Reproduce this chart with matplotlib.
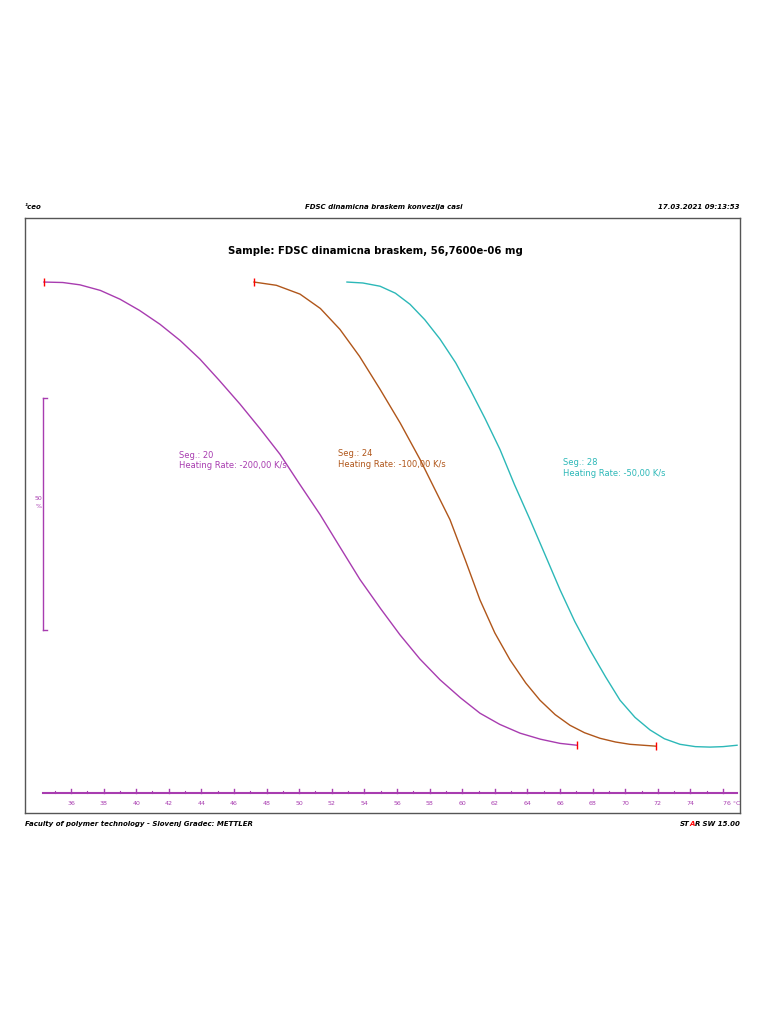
import matplotlib.pyplot as plt

# segment curves: temperature (°C) vs normalized signal (%)
t20 = [34.34, 35.5, 36.55, 37.8, 39.01, 40.2, 41.46, 42.7, 43.91, 45.1, 46.37, 47.6, 48.82, 50.0, 51.28, 52.5,
       53.73, 55.0, 56.18, 57.4, 58.64, 59.9, 61.09, 62.3, 63.55, 64.8, 66.0, 67.04]
y20 = [100, 99.9, 99.4, 98.2, 96.3, 93.9, 90.9, 87.4, 83.4, 78.8, 73.7, 68.4, 62.9, 56.6, 49.9, 42.9,
       35.9, 29.6, 24.0, 18.8, 14.3, 10.4, 7.1, 4.7, 2.8, 1.5, 0.6, 0.2]
t24 = [47.23, 48.6, 50.05, 51.3, 52.50, 53.7, 54.96, 56.2, 57.41, 58.3, 59.25, 60.2, 61.09, 62.0, 62.93, 63.9,
       64.77, 65.7, 66.61, 67.5, 68.45, 69.4, 70.29, 71.89]
y24 = [100, 99.3, 97.4, 94.3, 89.8, 84.0, 76.9, 69.6, 61.8, 55.5, 48.8, 40.0, 31.5, 24.4, 18.6, 13.6,
       9.9, 6.8, 4.5, 2.9, 1.7, 0.9, 0.4, 0]
t28 = [52.93, 53.9, 54.96, 55.9, 56.80, 57.7, 58.64, 59.6, 60.48, 61.4, 62.32, 63.2, 64.16, 65.1, 66.0, 66.9,
       67.84, 68.8, 69.68, 70.6, 71.52, 72.4, 73.36, 74.3, 75.20, 76.0, 76.86]
y28 = [100, 99.8, 99.1, 97.6, 95.2, 91.9, 87.7, 82.6, 76.9, 70.6, 63.9, 56.4, 48.8, 41.1, 33.7, 26.9,
       20.7, 14.9, 9.9, 6.2, 3.5, 1.6, 0.4, -0.1, -0.2, -0.1, 0.2]
ticks = list(range(36, 77, 2))

purple = '#a83cb0'
brown = '#b0561a'
cyan = '#2cb8b8'
narrow = 'Liberation Sans Narrow'

fig = plt.figure(figsize=(7.68, 10.24), dpi=100)
ax = fig.add_axes([25/768, 1-813/1024, 715/768, 595/1024])
ax.set_xlim(33.18, 77.04)
ax.set_ylim(-14.4, 113.8)
ax.set_xticks([]); ax.set_yticks([])
for s in ax.spines.values():
    s.set_color('#555555'); s.set_linewidth(1)

ax.plot(t20, y20, color=purple, lw=1)
ax.plot(t24, y24, color=brown, lw=1)
ax.plot(t28, y28, color=cyan, lw=1)
# red end markers
for t, y in [(t20[0], y20[0]), (t20[-1], y20[-1]), (t24[0], y24[0]), (t24[-1], y24[-1])]:
    ax.plot(t, y, marker='|', color='red', ms=6, mew=1)

# temperature axis
ax.plot([34.28, 76.86], [-10.1, -10.1], color=purple, lw=1.5)
for t in ticks:
    ax.plot([t, t], [-10.1, -9.3], color=purple, lw=1)
    ax.text(t, -12.3, str(t) if t < 76 else '76 °C', color=purple, fontsize=4.5,
            ha='center' if t < 76 else 'left', va='center', family=narrow)
for t in [x + 1 for x in ticks[:-1]] + [35]:
    ax.plot([t, t], [-10.1, -9.7], color=purple, lw=0.8)

# scale bar
ax.plot([34.3, 34.3], [25, 75], color=purple, lw=1)
ax.plot([34.3, 34.5], [75, 75], color=purple, lw=1)
ax.plot([34.3, 34.5], [25, 25], color=purple, lw=1)
ax.text(34.0, 52.5, '50\n%', color=purple, fontsize=4.5, ha='center', va='center', linespacing=1.6, family=narrow)

fs = 6
ax.text(42.6, 61.5, 'Seg.: 20\nHeating Rate: -200,00 K/s', color=purple, fontsize=fs, va='center', family=narrow)
ax.text(52.4, 61.9, 'Seg.: 24\nHeating Rate: -100,00 K/s', color=brown, fontsize=fs, va='center', family=narrow)
ax.text(66.2, 59.9, 'Seg.: 28\nHeating Rate: -50,00 K/s', color=cyan, fontsize=fs, va='center', family=narrow)

fig.text(228/768, 1-251/1024, 'Sample: FDSC dinamicna braskem, 56,7600e-06 mg', fontsize=7.3,
         weight='bold', va='center', family=narrow)
hdr = dict(fontsize=5, weight='bold', style='italic', va='center', family=narrow)
fig.text(25/768, 1-207/1024, '¹ceo', ha='left', **hdr)
fig.text(384/768, 1-207/1024, 'FDSC dinamicna braskem konvezija casi', ha='center', **hdr)
fig.text(740/768, 1-207/1024, '17.03.2021 09:13:53', ha='right', **hdr)
fig.text(25/768, 1-824/1024, 'Faculty of polymer technology - Slovenj Gradec: METTLER', ha='left', **hdr)
# STAR logo with red A, laid out piece by piece and right-aligned at the frame edge
fig.canvas.draw()
r = fig.canvas.get_renderer()
parts = [('ST', 'black'), ('A', 'red'), ('R', 'black'), ('e SW 15.00', 'black')]
parts[-1] = (' SW 15.00', 'black')
objs = [fig.text(0, 1-824/1024, p, color=c, ha='left', **hdr) for p, c in parts]
widths = [o.get_window_extent(r).width for o in objs]
x = 740 - sum(widths)
for o, w in zip(objs, widths):
    o.set_x(x / 768)
    x += w

fig.savefig('out.png', dpi=100)
